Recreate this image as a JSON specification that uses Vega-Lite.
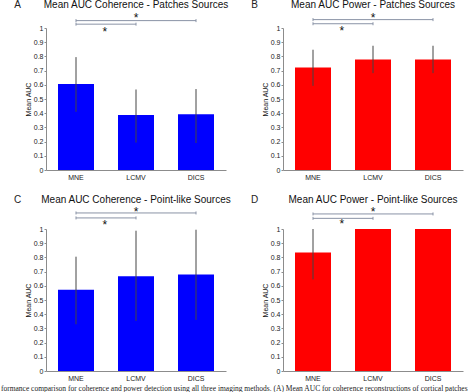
{
  "$schema": "https://vega.github.io/schema/vega-lite/v6.json",
  "padding": {"left": 0, "top": -1, "right": 0, "bottom": 0},
  "autosize": {"type": "pad"},
  "bounds": "flush",
  "columns": 2,
  "spacing": {"row": 59, "column": 57},
  "title": {
    "text": "formance comparison for coherence and power detection using all three imaging methods. (A) Mean AUC for coherence reconstructions of cortical patches",
    "orient": "bottom",
    "anchor": "start",
    "font": "Liberation Serif",
    "fontSize": 7.5,
    "fontWeight": "normal",
    "color": "#222",
    "dx": -13,
    "offset": 4
  },
  "config": {
    "font": "Liberation Sans",
    "numberFormat": "~g",
    "view": {"stroke": null},
    "axis": {
      "grid": false,
      "labelFont": "Liberation Sans",
      "labelFontSize": 7,
      "labelColor": "#222",
      "titleFont": "Liberation Sans",
      "titleFontSize": 7,
      "titleFontWeight": "normal",
      "titleColor": "#111",
      "domainColor": "#8c8c8c",
      "tickColor": "#8c8c8c"
    },
    "axisX": {"ticks": false, "labelPadding": 3, "labelAngle": 0},
    "axisY": {"tickSize": 2, "labelPadding": 1, "titlePadding": 2, "labelFlush": false, "labelOverlap": false, "tickCount": 10},
    "title": {"font": "Liberation Sans", "fontSize": 10, "fontWeight": "normal", "color": "#111"}
  },
  "datasets": {
    "bars": [
      {"panel": "A", "method": "MNE", "mean": 0.605, "lo": 0.41, "hi": 0.795},
      {"panel": "A", "method": "LCMV", "mean": 0.388, "lo": 0.193, "hi": 0.567},
      {"panel": "A", "method": "DICS", "mean": 0.393, "lo": 0.19, "hi": 0.57},
      {"panel": "B", "method": "MNE", "mean": 0.722, "lo": 0.593, "hi": 0.847},
      {"panel": "B", "method": "LCMV", "mean": 0.779, "lo": 0.682, "hi": 0.875},
      {"panel": "B", "method": "DICS", "mean": 0.779, "lo": 0.682, "hi": 0.875},
      {"panel": "C", "method": "MNE", "mean": 0.572, "lo": 0.329, "hi": 0.805},
      {"panel": "C", "method": "LCMV", "mean": 0.668, "lo": 0.353, "hi": 0.988},
      {"panel": "C", "method": "DICS", "mean": 0.68, "lo": 0.36, "hi": 0.995},
      {"panel": "D", "method": "MNE", "mean": 0.835, "lo": 0.645, "hi": 1.0},
      {"panel": "D", "method": "LCMV", "mean": 1.0, "lo": 1.0, "hi": 1.0},
      {"panel": "D", "method": "DICS", "mean": 1.0, "lo": 1.0, "hi": 1.0}
    ],
    "brackets": [
      {"panel": "A", "from": "MNE", "to": "LCMV", "y": 1.027, "starY": 0.97},
      {"panel": "A", "from": "MNE", "to": "DICS", "y": 1.052, "starY": 1.071},
      {"panel": "B", "from": "MNE", "to": "LCMV", "y": 1.03, "starY": 0.982},
      {"panel": "B", "from": "MNE", "to": "DICS", "y": 1.059, "starY": 1.069},
      {"panel": "C", "from": "MNE", "to": "LCMV", "y": 1.078, "starY": 1.029},
      {"panel": "C", "from": "MNE", "to": "DICS", "y": 1.113, "starY": 1.123},
      {"panel": "D", "from": "MNE", "to": "LCMV", "y": 1.075, "starY": 1.034},
      {"panel": "D", "from": "MNE", "to": "DICS", "y": 1.106, "starY": 1.119}
    ]
  },
  "concat": [
    {
      "width": 180,
      "height": 142,
      "title": {"text": "Mean AUC Coherence - Patches Sources", "anchor": "middle", "frame": "group", "offset": -10},
      "layer": [
        {"data": {"name": "bars"}, "transform": [{"filter": "datum.panel === 'A'"}],
         "mark": {"type": "bar", "color": "#0000ff"},
         "encoding": {
           "x": {"field": "method", "type": "nominal", "title": null, "sort": ["MNE", "LCMV", "DICS"], "scale": {"domain": ["MNE", "LCMV", "DICS"], "paddingInner": 0.4, "paddingOuter": 0.2}},
           "y": {"field": "mean", "type": "quantitative", "title": "Mean AUC", "scale": {"domain": [0, 1]}}
         }},
        {"data": {"name": "bars"}, "transform": [{"filter": "datum.panel === 'A'"}],
         "mark": {"type": "rule", "color": "#444", "strokeWidth": 1},
         "encoding": {"x": {"field": "method", "type": "nominal", "title": null}, "y": {"field": "lo", "type": "quantitative", "title": "Mean AUC"}, "y2": {"field": "hi"}}},
        {"data": {"name": "brackets"}, "transform": [{"filter": "datum.panel === 'A'"}],
         "mark": {"type": "rule", "color": "#8a93a6", "strokeWidth": 1},
         "encoding": {"x": {"field": "from", "type": "nominal", "title": null}, "x2": {"field": "to"}, "y": {"field": "y", "type": "quantitative", "title": "Mean AUC"}}},
        {"data": {"name": "brackets"}, "transform": [{"filter": "datum.panel === 'A'"}, {"fold": ["from", "to"], "as": ["end", "method"]}],
         "mark": {"type": "point", "shape": "M0,-1L0,1", "size": 9, "filled": false, "color": "#8a93a6", "strokeWidth": 1, "opacity": 1},
         "encoding": {"x": {"field": "method", "type": "nominal", "title": null}, "y": {"field": "y", "type": "quantitative", "title": "Mean AUC"}}},
        {"data": {"name": "brackets"}, "transform": [{"filter": "datum.panel === 'A' && datum.to === 'LCMV'"}],
         "mark": {"type": "text", "text": "*", "fontSize": 12, "color": "#111", "baseline": "middle"},
         "encoding": {"x": {"field": "from", "type": "nominal", "bandPosition": 1.3, "title": null}, "y": {"field": "starY", "type": "quantitative", "title": "Mean AUC"}}},
        {"data": {"name": "brackets"}, "transform": [{"filter": "datum.panel === 'A' && datum.to === 'DICS'"}],
         "mark": {"type": "text", "text": "*", "fontSize": 12, "color": "#111", "baseline": "middle"},
         "encoding": {"x": {"field": "from", "type": "nominal", "bandPosition": 2.1667, "title": null}, "y": {"field": "starY", "type": "quantitative", "title": "Mean AUC"}}},
        {"data": {"values": [{"letter": "A"}]},
         "mark": {"type": "text", "fontSize": 10, "color": "#222", "baseline": "middle"},
         "encoding": {"x": {"datum": "MNE", "bandPosition": -1.125, "title": null}, "y": {"datum": 1.164, "title": "Mean AUC"}, "text": {"field": "letter"}}}
      ]
    },
    {
      "width": 180,
      "height": 142,
      "title": {"text": "Mean AUC Power - Patches Sources", "anchor": "middle", "frame": "group", "offset": -10},
      "layer": [
        {"data": {"name": "bars"}, "transform": [{"filter": "datum.panel === 'B'"}],
         "mark": {"type": "bar", "color": "#ff0000"},
         "encoding": {
           "x": {"field": "method", "type": "nominal", "title": null, "sort": ["MNE", "LCMV", "DICS"], "scale": {"domain": ["MNE", "LCMV", "DICS"], "paddingInner": 0.4, "paddingOuter": 0.2}},
           "y": {"field": "mean", "type": "quantitative", "title": "Mean AUC", "scale": {"domain": [0, 1]}}
         }},
        {"data": {"name": "bars"}, "transform": [{"filter": "datum.panel === 'B'"}],
         "mark": {"type": "rule", "color": "#444", "strokeWidth": 1},
         "encoding": {"x": {"field": "method", "type": "nominal", "title": null}, "y": {"field": "lo", "type": "quantitative", "title": "Mean AUC"}, "y2": {"field": "hi"}}},
        {"data": {"name": "brackets"}, "transform": [{"filter": "datum.panel === 'B'"}],
         "mark": {"type": "rule", "color": "#8a93a6", "strokeWidth": 1},
         "encoding": {"x": {"field": "from", "type": "nominal", "title": null}, "x2": {"field": "to"}, "y": {"field": "y", "type": "quantitative", "title": "Mean AUC"}}},
        {"data": {"name": "brackets"}, "transform": [{"filter": "datum.panel === 'B'"}, {"fold": ["from", "to"], "as": ["end", "method"]}],
         "mark": {"type": "point", "shape": "M0,-1L0,1", "size": 9, "filled": false, "color": "#8a93a6", "strokeWidth": 1, "opacity": 1},
         "encoding": {"x": {"field": "method", "type": "nominal", "title": null}, "y": {"field": "y", "type": "quantitative", "title": "Mean AUC"}}},
        {"data": {"name": "brackets"}, "transform": [{"filter": "datum.panel === 'B' && datum.to === 'LCMV'"}],
         "mark": {"type": "text", "text": "*", "fontSize": 12, "color": "#111", "baseline": "middle"},
         "encoding": {"x": {"field": "from", "type": "nominal", "bandPosition": 1.3, "title": null}, "y": {"field": "starY", "type": "quantitative", "title": "Mean AUC"}}},
        {"data": {"name": "brackets"}, "transform": [{"filter": "datum.panel === 'B' && datum.to === 'DICS'"}],
         "mark": {"type": "text", "text": "*", "fontSize": 12, "color": "#111", "baseline": "middle"},
         "encoding": {"x": {"field": "from", "type": "nominal", "bandPosition": 2.1667, "title": null}, "y": {"field": "starY", "type": "quantitative", "title": "Mean AUC"}}},
        {"data": {"values": [{"letter": "B"}]},
         "mark": {"type": "text", "fontSize": 10, "color": "#222", "baseline": "middle"},
         "encoding": {"x": {"datum": "MNE", "bandPosition": -1.125, "title": null}, "y": {"datum": 1.164, "title": "Mean AUC"}, "text": {"field": "letter"}}}
      ]
    },
    {
      "width": 180,
      "height": 142,
      "title": {"text": "Mean AUC Coherence - Point-like Sources", "anchor": "middle", "frame": "group", "offset": -10},
      "layer": [
        {"data": {"name": "bars"}, "transform": [{"filter": "datum.panel === 'C'"}],
         "mark": {"type": "bar", "color": "#0000ff"},
         "encoding": {
           "x": {"field": "method", "type": "nominal", "title": null, "sort": ["MNE", "LCMV", "DICS"], "scale": {"domain": ["MNE", "LCMV", "DICS"], "paddingInner": 0.4, "paddingOuter": 0.2}},
           "y": {"field": "mean", "type": "quantitative", "title": "Mean AUC", "scale": {"domain": [0, 1]}}
         }},
        {"data": {"name": "bars"}, "transform": [{"filter": "datum.panel === 'C'"}],
         "mark": {"type": "rule", "color": "#444", "strokeWidth": 1},
         "encoding": {"x": {"field": "method", "type": "nominal", "title": null}, "y": {"field": "lo", "type": "quantitative", "title": "Mean AUC"}, "y2": {"field": "hi"}}},
        {"data": {"name": "brackets"}, "transform": [{"filter": "datum.panel === 'C'"}],
         "mark": {"type": "rule", "color": "#8a93a6", "strokeWidth": 1},
         "encoding": {"x": {"field": "from", "type": "nominal", "title": null}, "x2": {"field": "to"}, "y": {"field": "y", "type": "quantitative", "title": "Mean AUC"}}},
        {"data": {"name": "brackets"}, "transform": [{"filter": "datum.panel === 'C'"}, {"fold": ["from", "to"], "as": ["end", "method"]}],
         "mark": {"type": "point", "shape": "M0,-1L0,1", "size": 9, "filled": false, "color": "#8a93a6", "strokeWidth": 1, "opacity": 1},
         "encoding": {"x": {"field": "method", "type": "nominal", "title": null}, "y": {"field": "y", "type": "quantitative", "title": "Mean AUC"}}},
        {"data": {"name": "brackets"}, "transform": [{"filter": "datum.panel === 'C' && datum.to === 'LCMV'"}],
         "mark": {"type": "text", "text": "*", "fontSize": 12, "color": "#111", "baseline": "middle"},
         "encoding": {"x": {"field": "from", "type": "nominal", "bandPosition": 1.3, "title": null}, "y": {"field": "starY", "type": "quantitative", "title": "Mean AUC"}}},
        {"data": {"name": "brackets"}, "transform": [{"filter": "datum.panel === 'C' && datum.to === 'DICS'"}],
         "mark": {"type": "text", "text": "*", "fontSize": 12, "color": "#111", "baseline": "middle"},
         "encoding": {"x": {"field": "from", "type": "nominal", "bandPosition": 2.1667, "title": null}, "y": {"field": "starY", "type": "quantitative", "title": "Mean AUC"}}},
        {"data": {"values": [{"letter": "C"}]},
         "mark": {"type": "text", "fontSize": 10, "color": "#222", "baseline": "middle"},
         "encoding": {"x": {"datum": "MNE", "bandPosition": -1.125, "title": null}, "y": {"datum": 1.207, "title": "Mean AUC"}, "text": {"field": "letter"}}}
      ]
    },
    {
      "width": 180,
      "height": 142,
      "title": {"text": "Mean AUC Power - Point-like Sources", "anchor": "middle", "frame": "group", "offset": -10},
      "layer": [
        {"data": {"name": "bars"}, "transform": [{"filter": "datum.panel === 'D'"}],
         "mark": {"type": "bar", "color": "#ff0000"},
         "encoding": {
           "x": {"field": "method", "type": "nominal", "title": null, "sort": ["MNE", "LCMV", "DICS"], "scale": {"domain": ["MNE", "LCMV", "DICS"], "paddingInner": 0.4, "paddingOuter": 0.2}},
           "y": {"field": "mean", "type": "quantitative", "title": "Mean AUC", "scale": {"domain": [0, 1]}}
         }},
        {"data": {"name": "bars"}, "transform": [{"filter": "datum.panel === 'D'"}],
         "mark": {"type": "rule", "color": "#444", "strokeWidth": 1},
         "encoding": {"x": {"field": "method", "type": "nominal", "title": null}, "y": {"field": "lo", "type": "quantitative", "title": "Mean AUC"}, "y2": {"field": "hi"}}},
        {"data": {"name": "brackets"}, "transform": [{"filter": "datum.panel === 'D'"}],
         "mark": {"type": "rule", "color": "#8a93a6", "strokeWidth": 1},
         "encoding": {"x": {"field": "from", "type": "nominal", "title": null}, "x2": {"field": "to"}, "y": {"field": "y", "type": "quantitative", "title": "Mean AUC"}}},
        {"data": {"name": "brackets"}, "transform": [{"filter": "datum.panel === 'D'"}, {"fold": ["from", "to"], "as": ["end", "method"]}],
         "mark": {"type": "point", "shape": "M0,-1L0,1", "size": 9, "filled": false, "color": "#8a93a6", "strokeWidth": 1, "opacity": 1},
         "encoding": {"x": {"field": "method", "type": "nominal", "title": null}, "y": {"field": "y", "type": "quantitative", "title": "Mean AUC"}}},
        {"data": {"name": "brackets"}, "transform": [{"filter": "datum.panel === 'D' && datum.to === 'LCMV'"}],
         "mark": {"type": "text", "text": "*", "fontSize": 12, "color": "#111", "baseline": "middle"},
         "encoding": {"x": {"field": "from", "type": "nominal", "bandPosition": 1.3, "title": null}, "y": {"field": "starY", "type": "quantitative", "title": "Mean AUC"}}},
        {"data": {"name": "brackets"}, "transform": [{"filter": "datum.panel === 'D' && datum.to === 'DICS'"}],
         "mark": {"type": "text", "text": "*", "fontSize": 12, "color": "#111", "baseline": "middle"},
         "encoding": {"x": {"field": "from", "type": "nominal", "bandPosition": 2.1667, "title": null}, "y": {"field": "starY", "type": "quantitative", "title": "Mean AUC"}}},
        {"data": {"values": [{"letter": "D"}]},
         "mark": {"type": "text", "fontSize": 10, "color": "#222", "baseline": "middle"},
         "encoding": {"x": {"datum": "MNE", "bandPosition": -1.125, "title": null}, "y": {"datum": 1.207, "title": "Mean AUC"}, "text": {"field": "letter"}}}
      ]
    }
  ]
}
